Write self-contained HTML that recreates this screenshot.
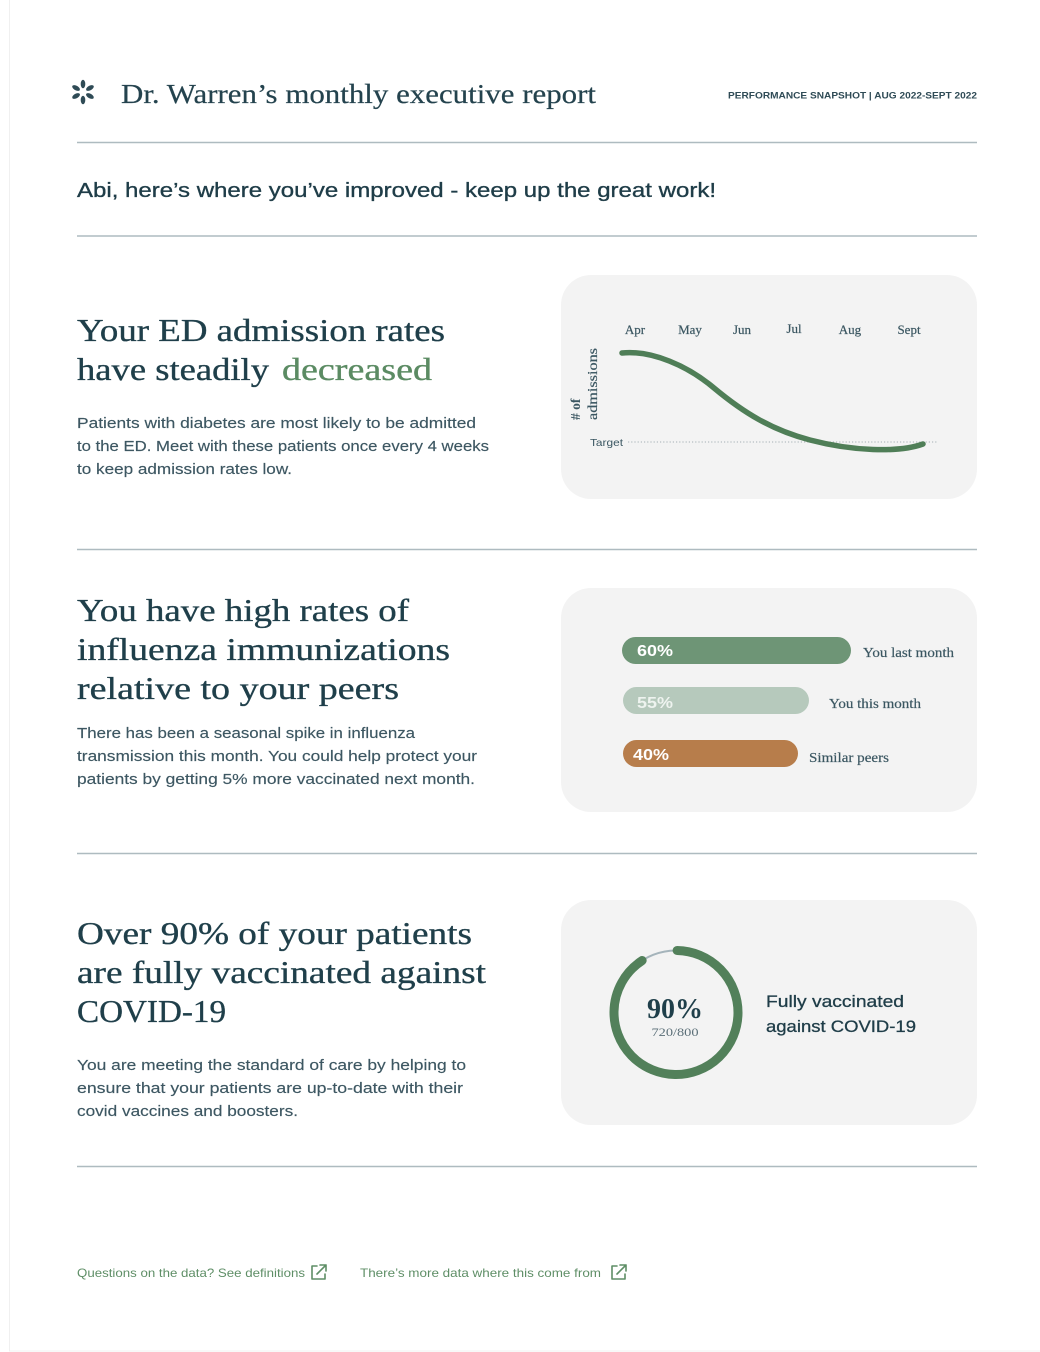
<!DOCTYPE html>
<html>
<head>
<meta charset="utf-8">
<style>
html,body{margin:0;padding:0;background:#fff;}
svg{display:block;}
.serif{font-family:"Liberation Serif",serif;}
.sans{font-family:"Liberation Sans",sans-serif;}
</style>
</head>
<body>
<svg width="1040" height="1352" viewBox="0 0 1040 1352" xmlns="http://www.w3.org/2000/svg">
  <rect x="0" y="0" width="1040" height="1352" fill="#ffffff"/>
  <line x1="9.5" y1="0" x2="9.5" y2="1351" stroke="#f0f0f0" stroke-width="1"/>
  <line x1="9" y1="1351" x2="1040" y2="1351" stroke="#f0f0f0" stroke-width="1"/>

  <!-- header icon -->
  <g fill="#2f4b56" transform="translate(83,92)">
    <ellipse cx="0" cy="-8" rx="2.3" ry="4.3"/>
    <ellipse cx="0" cy="-8" rx="2.3" ry="4.3" transform="rotate(60)"/>
    <ellipse cx="0" cy="-8" rx="2.3" ry="4.3" transform="rotate(120)"/>
    <ellipse cx="0" cy="-8" rx="2.3" ry="4.3" transform="rotate(180)"/>
    <ellipse cx="0" cy="-8" rx="2.3" ry="4.3" transform="rotate(240)"/>
    <ellipse cx="0" cy="-8" rx="2.3" ry="4.3" transform="rotate(300)"/>
  </g>
  <text class="serif" x="121" y="103" font-size="27.5" fill="#24434e" stroke="#24434e" stroke-width="0.2" textLength="475" lengthAdjust="spacingAndGlyphs">Dr. Warren’s monthly executive report</text>
  <text class="sans" x="728" y="98.3" font-size="9.5" font-weight="bold" fill="#2f4b56" textLength="249" lengthAdjust="spacingAndGlyphs">PERFORMANCE SNAPSHOT  |  AUG 2022-SEPT 2022</text>

  <line x1="77" y1="142.5" x2="977" y2="142.5" stroke="#aebbc0" stroke-width="1.6"/>
  <text class="sans" x="77" y="197" font-size="20.5" fill="#1f3d48" stroke="#1f3d48" stroke-width="0.35" textLength="639" lengthAdjust="spacingAndGlyphs">Abi, here’s where you’ve improved - keep up the great work!</text>
  <line x1="77" y1="236" x2="977" y2="236" stroke="#aebbc0" stroke-width="1.6"/>

  <!-- Section 1 -->
  <g class="serif" font-size="32" stroke-width="0.35">
  <text x="77" y="341" fill="#1f3f4a" stroke="#1f3f4a" textLength="368" lengthAdjust="spacingAndGlyphs">Your ED admission rates</text>
  <text x="77" y="380" fill="#1f3f4a" stroke="#1f3f4a" textLength="192" lengthAdjust="spacingAndGlyphs">have steadily</text>
  <text x="282" y="380" fill="#5b8b63" stroke="#5b8b63" textLength="150" lengthAdjust="spacingAndGlyphs">decreased</text>
  </g>

  <g class="sans" font-size="14.5" fill="#3d5762" stroke="#3d5762" stroke-width="0.15">
  <text x="77" y="428" textLength="399" lengthAdjust="spacingAndGlyphs">Patients with diabetes are most likely to be admitted</text>
  <text x="77" y="451" textLength="412" lengthAdjust="spacingAndGlyphs">to the ED. Meet with these patients once every 4 weeks</text>
  <text x="77" y="474" textLength="215" lengthAdjust="spacingAndGlyphs">to keep admission rates low.</text>
  </g>

  <rect x="561" y="275" width="416" height="224" rx="30" ry="30" fill="#f3f3f3"/>
  <g class="serif" font-size="13" fill="#3a5661" stroke="#3a5661" stroke-width="0.2" text-anchor="middle">
    <text x="635" y="334">Apr</text>
    <text x="690" y="334">May</text>
    <text x="742" y="334">Jun</text>
    <text x="794" y="333">Jul</text>
    <text x="850" y="334">Aug</text>
    <text x="909" y="334">Sept</text>
  </g>
  <text class="serif" font-size="13.5" font-weight="bold" fill="#3a5661" transform="translate(580,420) rotate(-90)">#  of</text>
  <text class="serif" font-size="13.5" fill="#3a5661" stroke="#3a5661" stroke-width="0.2" transform="translate(597,420) rotate(-90)" textLength="72" lengthAdjust="spacingAndGlyphs">admissions</text>
  <text class="sans" x="590" y="446" font-size="10.5" fill="#3a5661" textLength="33" lengthAdjust="spacingAndGlyphs">Target</text>
  <line x1="628" y1="442" x2="937" y2="442" stroke="#b4bdc1" stroke-width="1.2" stroke-dasharray="1.2,2"/>
  <path d="M622,353 C 652,350 688,366 714,388 C 744,413 772,430 810,440 C 852,451 898,453 923,444" fill="none" stroke="#4f7e57" stroke-width="5.5" stroke-linecap="round"/>

  <line x1="77" y1="549.5" x2="977" y2="549.5" stroke="#aebbc0" stroke-width="1.6"/>

  <!-- Section 2 -->
  <g class="serif" font-size="32" fill="#1f3f4a" stroke="#1f3f4a" stroke-width="0.35">
  <text x="77" y="621" textLength="332" lengthAdjust="spacingAndGlyphs">You have high rates of</text>
  <text x="77" y="660" textLength="373" lengthAdjust="spacingAndGlyphs">influenza immunizations</text>
  <text x="77" y="699" textLength="322" lengthAdjust="spacingAndGlyphs">relative to your peers</text>
  </g>

  <g class="sans" font-size="14.5" fill="#3d5762" stroke="#3d5762" stroke-width="0.15">
  <text x="77" y="738" textLength="338" lengthAdjust="spacingAndGlyphs">There has been a seasonal spike in influenza</text>
  <text x="77" y="761" textLength="400" lengthAdjust="spacingAndGlyphs">transmission this month. You could help protect your</text>
  <text x="77" y="784" textLength="398" lengthAdjust="spacingAndGlyphs">patients by getting 5% more vaccinated next month.</text>
  </g>

  <rect x="561" y="588" width="416" height="224" rx="30" ry="30" fill="#f3f3f3"/>
  <rect x="622" y="637" width="229" height="27" rx="13.5" ry="13.5" fill="#6e9576"/>
  <rect x="623" y="687" width="186" height="27" rx="13.5" ry="13.5" fill="#b6c9bc"/>
  <rect x="623" y="740" width="175" height="27" rx="13.5" ry="13.5" fill="#b77d4b"/>
  <g class="sans" font-size="16" font-weight="bold">
    <text x="637" y="656" fill="#ffffff" textLength="36" lengthAdjust="spacingAndGlyphs">60%</text>
    <text x="637" y="708" fill="#eef3ef" textLength="36" lengthAdjust="spacingAndGlyphs">55%</text>
    <text x="633" y="760" fill="#ffffff" textLength="36" lengthAdjust="spacingAndGlyphs">40%</text>
  </g>
  <g class="serif" font-size="14" fill="#3a5661" stroke="#3a5661" stroke-width="0.2">
    <text x="863" y="657" textLength="91" lengthAdjust="spacingAndGlyphs">You last month</text>
    <text x="829" y="708" textLength="92" lengthAdjust="spacingAndGlyphs">You this month</text>
    <text x="809" y="762" textLength="80" lengthAdjust="spacingAndGlyphs">Similar peers</text>
  </g>

  <line x1="77" y1="853.5" x2="977" y2="853.5" stroke="#aebbc0" stroke-width="1.6"/>

  <!-- Section 3 -->
  <g class="serif" font-size="32" fill="#1f3f4a" stroke="#1f3f4a" stroke-width="0.35">
  <text x="77" y="944" textLength="395" lengthAdjust="spacingAndGlyphs">Over 90% of your patients</text>
  <text x="77" y="983" textLength="409" lengthAdjust="spacingAndGlyphs">are fully vaccinated against</text>
  <text x="77" y="1022" textLength="149" lengthAdjust="spacingAndGlyphs">COVID-19</text>
  </g>

  <g class="sans" font-size="14.5" fill="#3d5762" stroke="#3d5762" stroke-width="0.15">
  <text x="77" y="1070" textLength="389" lengthAdjust="spacingAndGlyphs">You are meeting the standard of care by helping to</text>
  <text x="77" y="1093" textLength="386" lengthAdjust="spacingAndGlyphs">ensure that your patients are up-to-date with their</text>
  <text x="77" y="1116" textLength="221" lengthAdjust="spacingAndGlyphs">covid vaccines and boosters.</text>
  </g>

  <rect x="561" y="900" width="416" height="225" rx="30" ry="30" fill="#f3f3f3"/>
  <circle cx="676" cy="1012.5" r="62" fill="none" stroke="#a5b4bb" stroke-width="2"/>
  <circle cx="676" cy="1012.5" r="62" fill="none" stroke="#52805a" stroke-width="9" stroke-linecap="round"
          stroke-dasharray="352.5 389.6" transform="rotate(-89 676 1012.5)"/>
  <text class="serif" x="675" y="1018" font-size="28" font-weight="bold" fill="#1f3f4a" text-anchor="middle" textLength="56" lengthAdjust="spacingAndGlyphs">90%</text>
  <text class="serif" x="675" y="1036" font-size="12" fill="#5a6e77" text-anchor="middle" textLength="47" lengthAdjust="spacingAndGlyphs">720/800</text>
  <g class="sans" font-size="17" fill="#1f3d48" stroke="#1f3d48" stroke-width="0.3">
  <text x="766" y="1007" textLength="138" lengthAdjust="spacingAndGlyphs">Fully vaccinated</text>
  <text x="766" y="1032" textLength="150" lengthAdjust="spacingAndGlyphs">against COVID-19</text>
  </g>

  <line x1="77" y1="1166.5" x2="977" y2="1166.5" stroke="#aebbc0" stroke-width="1.6"/>

  <!-- Footer -->
  <text class="sans" x="77" y="1277" font-size="12" fill="#5e8e66" textLength="228" lengthAdjust="spacingAndGlyphs">Questions on the data? See definitions</text>
  <g fill="none" stroke="#5e8e66" stroke-width="1.6" stroke-linecap="round" stroke-linejoin="round">
    <path d="M317,1266 H312 V1279 H325 V1274"/>
    <path d="M320,1265 H326 V1271 M326,1265 L317,1274"/>
  </g>
  <text class="sans" x="360" y="1277" font-size="12" fill="#5e8e66" textLength="241" lengthAdjust="spacingAndGlyphs">There’s more data where this come from</text>
  <g fill="none" stroke="#5e8e66" stroke-width="1.6" stroke-linecap="round" stroke-linejoin="round">
    <path d="M617,1266 H612 V1279 H625 V1274"/>
    <path d="M620,1265 H626 V1271 M626,1265 L617,1274"/>
  </g>
</svg>
</body>
</html>
